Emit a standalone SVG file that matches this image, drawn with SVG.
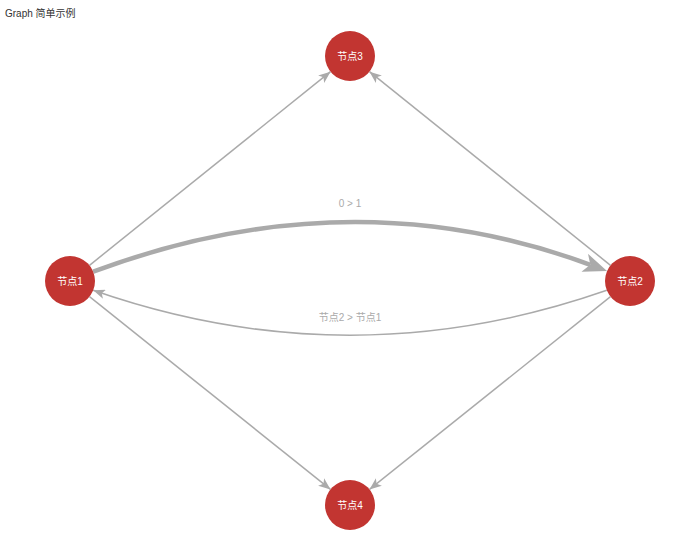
<svg xmlns="http://www.w3.org/2000/svg" width="700" height="560" viewBox="0 0 700 560">
  <style>
    .edge { fill: none; stroke: #aaa; stroke-width: 1.5; }
    .thick { stroke-width: 4.5; }
    .node circle { fill: #c23531; }
    .node text { fill: #fff; font-family: "Liberation Sans", "Noto Sans CJK SC", sans-serif; font-size: 10px; text-anchor: middle; }
    .elabel { fill: #aaa; font-family: "Liberation Sans", "Noto Sans CJK SC", sans-serif; font-size: 10px; text-anchor: middle; }
    .title { fill: #333; font-family: "Liberation Sans", "Noto Sans CJK SC", sans-serif; font-size: 10px; }
  </style>
  <defs>
    <marker id="arrow" viewBox="0 0 10 8" refX="10" refY="4" markerWidth="12" markerHeight="9.6" markerUnits="userSpaceOnUse" orient="auto">
      <path d="M10,4 L0,0 L2.5,4 L0,8 Z" fill="#aaa"/>
    </marker>
    <marker id="arrowBig" viewBox="0 0 10 8" refX="2.5" refY="4" markerWidth="24" markerHeight="19" markerUnits="userSpaceOnUse" orient="auto">
      <path d="M10,4 L0,0 L2.5,4 L0,8 Z" fill="#aaa"/>
    </marker>
  </defs>
  <rect width="700" height="560" fill="#fff"/>
  <text class="title" x="5" y="17">Graph 简单示例</text>
  <g id="connectors">
    <line class="edge" x1="89.5" y1="265.3" x2="330.5" y2="71.7" marker-end="url(#arrow)"/>
    <line class="edge" x1="610.5" y1="265.3" x2="369.5" y2="71.7" marker-end="url(#arrow)"/>
    <line class="edge" x1="89.5" y1="296.6" x2="330.5" y2="489.4" marker-end="url(#arrow)"/>
    <line class="edge" x1="610.5" y1="296.6" x2="369.5" y2="489.4" marker-end="url(#arrow)"/>
    <path class="edge thick" d="M93.2,271.7 Q350,176 590.3,264.8" marker-end="url(#arrowBig)"/>
    <path class="edge" d="M606.8,290.3 Q350,380 93.2,290.3" marker-end="url(#arrow)"/>
    <text class="elabel" x="350" y="207">0 &gt; 1</text>
    <text class="elabel" x="350" y="321">节点2 &gt; 节点1</text>
  </g>
  <g id="node1" class="node">
    <circle cx="70" cy="281" r="25"/>
    <text x="70" y="285">节点1</text>
  </g>
  <g id="node2" class="node">
    <circle cx="630" cy="281" r="25"/>
    <text x="630" y="285">节点2</text>
  </g>
  <g id="node3" class="node">
    <circle cx="350" cy="56" r="25"/>
    <text x="350" y="60">节点3</text>
  </g>
  <g id="node4" class="node">
    <circle cx="350" cy="505" r="25"/>
    <text x="350" y="509">节点4</text>
  </g>
</svg>
